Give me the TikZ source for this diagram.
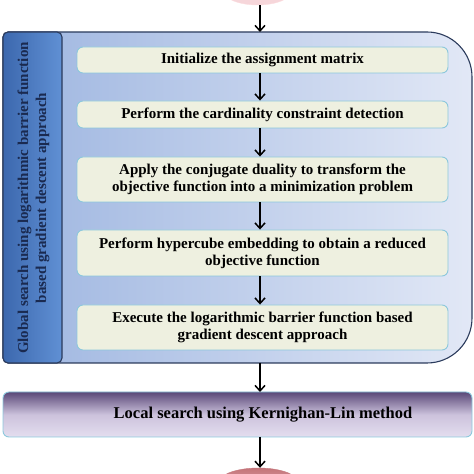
\documentclass[tikz,border=0pt]{standalone}
\usepackage{fontspec}
\setmainfont{Liberation Serif}
\usetikzlibrary{arrows.meta,shapes.geometric}
\definecolor{boxfill}{HTML}{EEF0E0}
\definecolor{boxline}{HTML}{8CC8DC}
\definecolor{navy}{HTML}{2B3B5C}
\definecolor{contL}{HTML}{9DB5E0}
\definecolor{contR}{HTML}{E2E8F6}
\definecolor{barL}{HTML}{3C68AE}
\definecolor{barR}{HTML}{6090D4}
\definecolor{bartext}{HTML}{1A2A50}
\definecolor{purT}{HTML}{5A4878}
\definecolor{purM}{HTML}{CCC2DC}
\definecolor{purB}{HTML}{E4DEEF}
\definecolor{pinkT}{HTML}{F6D6DA}
\definecolor{redT}{HTML}{C4747A}
\definecolor{redB}{HTML}{E8B4B6}
\tikzset{
  stepbox/.style={draw=boxline, line width=0.9pt, fill=boxfill, rounded corners=6pt,
    minimum width=371pt, align=center, inner sep=0pt,
    font=\bfseries\fontsize{15}{17}\selectfont},
  arr/.style={line width=1.6pt, -{Straight Barb[length=5.5pt,width=10pt,line width=1.5pt]}},
  lbl/.style={font=\bfseries\fontsize{15}{18}\selectfont, align=center, inner sep=0pt}
}
\begin{document}
\begin{tikzpicture}[x=1pt,y=1pt]
\useasboundingbox (0,0) rectangle (474,474);
\clip (0,0) rectangle (474,474);
% start and end terminals
\node[ellipse, draw=pinkT!80!red!40, fill=pinkT, minimum width=68pt, minimum height=28pt, inner sep=0pt] (start) at (257.5,483) {};
\node[ellipse, draw=redT, top color=redT, bottom color=redB, minimum width=78pt, minimum height=28pt, inner sep=0pt] (finish) at (258.5,-8) {};
% container
\shade[left color=contL, right color=contR, draw=navy, line width=1.1pt]
  (3,116) -- (3,437) arc (180:90:5) -- (427,442) arc (90:0:45) -- (472,156) arc (0:-90:45) -- (8,111) arc (270:180:5) -- cycle;
\shade[left color=barL, right color=barR, draw=navy, line width=1.1pt, rounded corners=5pt]
  (3,111) rectangle (62,442);
\coordinate (ax) at (260,0);
\coordinate (ctop) at (260,442);
\coordinate (cbot) at (260,111);
\node[lbl, rotate=90, text=bartext] (bartitle) at (33.5,276) {Global search using logarithmic barrier function\\based gradient descent approach};
% steps
\node[stepbox, minimum height=26pt] (b1) at (262.5,414) {Initialize the assignment matrix};
\node[stepbox, minimum height=27pt] (b2) at (262.5,359.5) {Perform the cardinality constraint detection};
\node[stepbox, minimum height=45pt] (b3) at (262.5,294.5) {Apply the conjugate duality to transform the\\objective function into a minimization problem};
\node[stepbox, minimum height=46pt] (b4) at (262.5,221) {Perform hypercube embedding to obtain a reduced\\objective function};
\node[stepbox, minimum height=45pt] (b5) at (262.5,146.5) {Execute the logarithmic barrier function based\\gradient descent approach};
% local search
\shade[top color=purT, bottom color=purB, middle color=purM, draw=boxline, line width=0.9pt, rounded corners=6pt]
  (3,37) rectangle (472,82);
\coordinate (ltop) at (260,82);
\coordinate (lbot) at (260,37);
\node[lbl, font=\bfseries\fontsize{16.5}{19}\selectfont] (local) at (263,59.5) {Local search using Kernighan-Lin method};
% arrows
\draw[arr] (start.south -| ax) -- (ctop);
\draw[arr] (b1.south -| ax) -- (b2.north -| ax);
\draw[arr] (b2.south -| ax) -- (b3.north -| ax);
\draw[arr] (b3.south -| ax) -- (b4.north -| ax);
\draw[arr] (b4.south -| ax) -- (b5.north -| ax);
\draw[arr] (cbot) -- (ltop);
\draw[arr] (lbot) -- (finish.north -| ax);
\end{tikzpicture}
\end{document}
